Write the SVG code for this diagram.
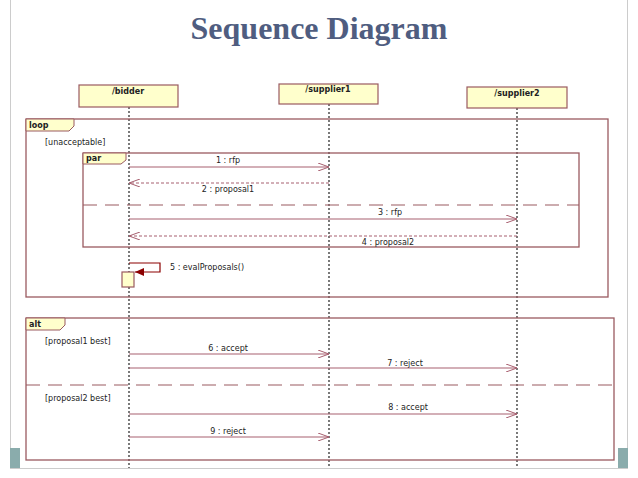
<svg xmlns="http://www.w3.org/2000/svg" width="638" height="478" viewBox="0 0 638 478">
<style>
.t{font-family:"DejaVu Sans","Liberation Sans",sans-serif;font-size:8px;fill:#222}
.b{font-weight:bold}
.fr{fill:none;stroke:#9a5a60;stroke-width:1.3}
.tab{fill:#ffffcc;stroke:#9a5a60;stroke-width:1}
.ll{stroke:#222;stroke-width:1.2;stroke-dasharray:2,2}
.m{stroke:#a86070;stroke-width:1.1;fill:none;marker-end:url(#o)}
.r{stroke:#a86070;stroke-width:1.1;fill:none;stroke-dasharray:3,2;marker-end:url(#o)}
.sep{stroke:#9a5a60;stroke-width:1.2;stroke-dasharray:14,8}
.box{fill:#ffffcc;stroke:#9a5a60;stroke-width:1.2}
</style>
<defs>
<marker id="o" markerWidth="12" markerHeight="8" refX="11" refY="4" orient="auto" markerUnits="userSpaceOnUse"><path d="M0,0 L11,4 L0,8" fill="none" stroke="#a86070" stroke-width="1"/></marker>
<marker id="f" markerWidth="10" markerHeight="8" refX="9" refY="4" orient="auto" markerUnits="userSpaceOnUse"><path d="M0,0 L9,4 L0,8z" fill="#8b0000"/></marker>
</defs>
<rect width="638" height="478" fill="#fff"/>
<line x1="10.5" y1="0" x2="10.5" y2="468" stroke="#ccc"/>
<line x1="627.5" y1="0" x2="627.5" y2="468" stroke="#ccc"/>
<line x1="10" y1="468.5" x2="628" y2="468.5" stroke="#ccc"/>
<rect x="10" y="448" width="10" height="20" fill="#8aacac"/>
<rect x="618" y="448" width="10" height="20" fill="#8aacac"/>
<text x="319" y="39" text-anchor="middle" font-family="Liberation Serif,serif" font-size="32" font-weight="bold" fill="#4f5d80">Sequence Diagram</text>
<g id="lifelines">
<line class="ll" x1="129" y1="107" x2="129" y2="468"/>
<line class="ll" x1="329" y1="104" x2="329" y2="468"/>
<line class="ll" x1="517" y1="108" x2="517" y2="468"/>
</g>
<g id="bidder"><rect class="box" x="79" y="85" width="99" height="22"/><text class="t b" x="128" y="94" text-anchor="middle">/bidder</text></g>
<g id="supplier1"><rect class="box" x="279" y="84" width="99" height="20"/><text class="t b" x="328" y="92" text-anchor="middle">/supplier1</text></g>
<g id="supplier2"><rect class="box" x="467" y="87" width="100" height="21"/><text class="t b" x="517" y="96" text-anchor="middle">/supplier2</text></g>
<g id="loop">
<rect class="fr" x="26" y="119" width="582" height="178"/>
<path class="tab" d="M26,119 H74 V126 L69,131 H26z"/>
<text class="t b" x="29" y="128">loop</text>
<text class="t" x="45" y="145">[unacceptable]</text>
</g>
<g id="par">
<rect class="fr" x="83" y="153" width="496" height="94"/>
<path class="tab" d="M83,153 H126 V160 L121,164 H83z"/>
<text class="t b" x="86" y="161">par</text>
<line class="sep" x1="83" y1="205" x2="579" y2="205"/>
</g>
<g id="alt">
<rect class="fr" x="26" y="318" width="588" height="142"/>
<path class="tab" d="M26,318 H65 V325 L60,330 H26z"/>
<text class="t b" x="29" y="327">alt</text>
<text class="t" x="45" y="344">[proposal1 best]</text>
<text class="t" x="45" y="401">[proposal2 best]</text>
<line class="sep" x1="26" y1="385" x2="614" y2="385"/>
</g>
<g id="activation"><rect class="box" x="122" y="272" width="12" height="15"/></g>
<g id="connectors">
<line class="m" x1="129" y1="167" x2="329" y2="167"/>
<line class="r" x1="329" y1="183" x2="129" y2="183"/>
<line class="m" x1="129" y1="219" x2="517" y2="219"/>
<line class="r" x1="517" y1="236" x2="129" y2="236"/>
<path d="M129,263 H160 V272 H135" fill="none" stroke="#8b0000" stroke-width="1.2" marker-end="url(#f)"/>
<line class="m" x1="129" y1="354" x2="329" y2="354"/>
<line class="m" x1="129" y1="368" x2="517" y2="368"/>
<line class="m" x1="129" y1="414" x2="517" y2="414"/>
<line class="m" x1="129" y1="437" x2="329" y2="437"/>
</g>
<g id="labels">
<text class="t" x="228" y="163" text-anchor="middle">1 : rfp</text>
<text class="t" x="228" y="192" text-anchor="middle">2 : proposal1</text>
<text class="t" x="390" y="215" text-anchor="middle">3 : rfp</text>
<text class="t" x="388" y="245" text-anchor="middle">4 : proposal2</text>
<text class="t" x="170" y="270">5 : evalProposals()</text>
<text class="t" x="228" y="351" text-anchor="middle">6 : accept</text>
<text class="t" x="405" y="366" text-anchor="middle">7 : reject</text>
<text class="t" x="408" y="410" text-anchor="middle">8 : accept</text>
<text class="t" x="228" y="434" text-anchor="middle">9 : reject</text>
</g>
</svg>
